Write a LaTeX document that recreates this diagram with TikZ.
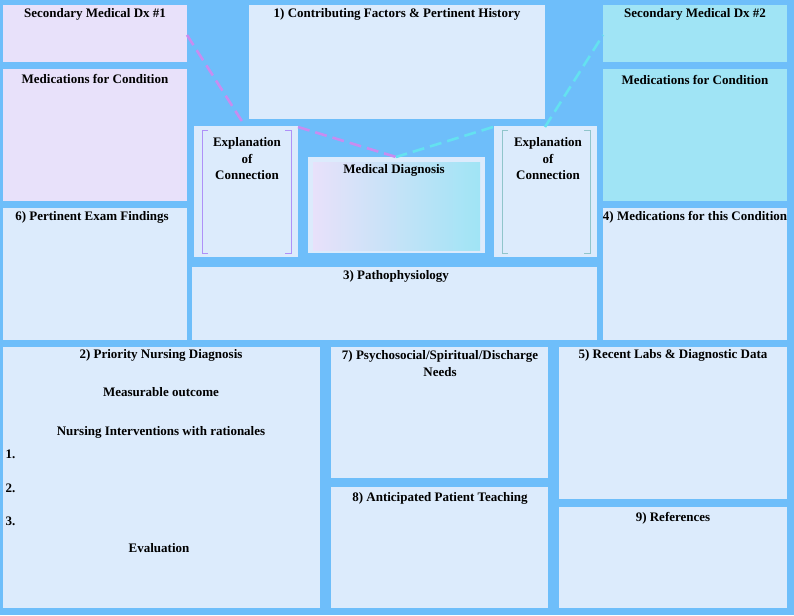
\documentclass[tikz,border=0pt]{standalone}
\usepackage{fontspec}
\setmainfont{Liberation Serif}
\definecolor{bg}{RGB}{110,190,250}
\definecolor{bx}{RGB}{220,235,252}
\definecolor{lav}{RGB}{232,225,250}
\definecolor{cy}{RGB}{160,228,245}
\definecolor{lavl}{RGB}{200,140,240}
\definecolor{cyl}{RGB}{100,225,240}
\begin{document}
\begin{tikzpicture}[x=1pt,y=-1pt,
  box/.style={fill=bx,draw=none},
  lbl/.style={font=\bfseries\fontsize{13}{16.5}\selectfont,align=center,anchor=north},
  dl/.style={dash pattern=on 12pt off 6pt,line width=2.6pt}]
\fill[bg] (0,0) rectangle (794,615);
\useasboundingbox (0,0) rectangle (794,615);
\fill[lav] (3,5) rectangle (187,62);
\fill[lav] (3,69) rectangle (187,201);
\fill[box] (249,5) rectangle (545,119);
\fill[cy] (603,5) rectangle (787,62);
\fill[cy] (603,69) rectangle (787,201);
\fill[box] (194,126) rectangle (298,257);
\fill[box] (494,126) rectangle (597,257);
\fill[box] (308,157) rectangle (485,253);
\shade[left color=lav,right color=cy] (313,162) rectangle (480,250);
\fill[box] (3,208) rectangle (187,340);
\fill[box] (603,208) rectangle (787,340);
\fill[box] (192,267) rectangle (597,340);
\fill[box] (3,347) rectangle (320,608);
\fill[box] (331,347) rectangle (548,478);
\fill[box] (331,487) rectangle (548,608);
\fill[box] (559,347) rectangle (787,499);
\fill[box] (559,507) rectangle (787,608);
% brackets
\draw[lavl!70!blue!70!white,line width=0.8pt] (208,130)--(202,130)--(202,253)--(208,253);
\draw[lavl!70!blue!70!white,line width=0.8pt] (285,130)--(291,130)--(291,253)--(285,253);
\draw[cyl!70!black!60!white,line width=0.6pt] (508,130)--(502,130)--(502,253)--(508,253);
\draw[cyl!70!black!60!white,line width=0.6pt] (584,130)--(590,130)--(590,253)--(584,253);
% connectors
\coordinate (a1) at (187,35); \coordinate (a2) at (245,126);
\coordinate (a3) at (298,127); \coordinate (md) at (396,157);
\coordinate (b1) at (493,127); \coordinate (b2) at (545,127); \coordinate (b3) at (603,35);
\draw[dl,lavl] (a1)--(a2); \draw[dl,lavl] (a3)--(md);
\draw[dl,cyl] (b1)--(md); \draw[dl,cyl] (b2)--(b3);
\node[lbl] (t1) at (95,5) {Secondary Medical Dx \#1};
\node[lbl] (t2) at (95,71) {Medications for Condition};
\node[lbl] (t3) at (397,5) {1) Contributing Factors \& Pertinent History};
\node[lbl] (t4) at (695,5) {Secondary Medical Dx \#2};
\node[lbl] (t5) at (695,72) {Medications for Condition};
\node[lbl] (t6) at (247,134) {Explanation\\of\\Connection};
\node[lbl] (t7) at (548,134) {Explanation\\of\\Connection};
\node[lbl] (t8) at (394,161) {Medical Diagnosis};
\node[lbl] (t9) at (92,208) {6) Pertinent Exam Findings};
\node[lbl] (t10) at (695,208) {4) Medications for this Condition};
\node[lbl] (t11) at (396,267) {3) Pathophysiology};
\node[lbl] (t12) at (161,346) {2) Priority Nursing Diagnosis};
\node[lbl] (t13) at (161,384) {Measurable outcome};
\node[lbl] (t14) at (161,423) {Nursing Interventions with rationales};
\node[lbl,anchor=north west] (n1) at (2,446) {1.};
\node[lbl,anchor=north west] (n2) at (2,480) {2.};
\node[lbl,anchor=north west] (n3) at (2,513) {3.};
\node[lbl] (t15) at (159,540) {Evaluation};
\node[lbl] (t16) at (440,347) {7) Psychosocial/Spiritual/Discharge\\Needs};
\node[lbl] (t17) at (440,489) {8) Anticipated Patient Teaching};
\node[lbl] (t18) at (673,346) {5) Recent Labs \& Diagnostic Data};
\node[lbl] (t19) at (673,509) {9) References};
\end{tikzpicture}
\end{document}
